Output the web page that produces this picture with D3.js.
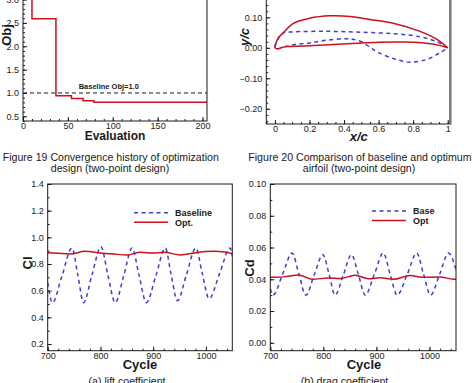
<!DOCTYPE html>
<html>
<head>
<meta charset="utf-8">
<script src="https://cdn.jsdelivr.net/npm/d3@7"></script>
<style>
body { margin: 0; background: #fff; }
svg { display: block; font-family: "Liberation Sans", Arial, sans-serif; }
</style>
</head>
<body>
<svg id="chart" width="474" height="383"></svg>
<script>
// Figure 19: objective history (step values)
const evalX = [0, 10, 36.7, 54, 67, 79, 205];
const evalObj = [3.6, 2.59, 0.94, 0.88, 0.835, 0.80, 0.80];
const baselineObj = 1.0;
const objTicks = [0.5, 1.0, 1.5, 2.0, 2.5, 3.0];
const evalTicks = [0, 50, 100, 150, 200];

// Figure 20: airfoil surfaces
const optUpperX = [0, 0.004, 0.012, 0.025, 0.05, 0.1, 0.2, 0.32, 0.435, 0.55, 0.69, 0.84, 0.94, 1.0];
const optUpperY = [0, 0.012, 0.024, 0.036, 0.05, 0.078, 0.097, 0.105, 0.103, 0.093, 0.08, 0.054, 0.027, 0];
const optLowerX = [0, 0.01, 0.02, 0.04, 0.07, 0.17, 0.42, 0.6, 0.75, 0.92, 1.0];
const optLowerY = [0, -0.003, -0.003, 0.001, 0.004, 0.006, 0.013, 0.018, 0.019, 0.012, 0];
const baseUpperX = [0, 0.004, 0.012, 0.025, 0.05, 0.1, 0.3, 0.5, 0.69, 0.84, 0.94, 1.0];
const baseUpperY = [0, 0.012, 0.024, 0.036, 0.049, 0.052, 0.054, 0.051, 0.046, 0.036, 0.019, 0];
const baseLowerX = [0, 0.01, 0.02, 0.04, 0.07, 0.117, 0.2, 0.3, 0.416, 0.45, 0.5, 0.55, 0.6, 0.69, 0.78, 0.88, 0.955, 1.0];
const baseLowerY = [0, -0.003, -0.003, 0.001, 0.005, 0.011, 0.016, 0.025, 0.03, 0.028, 0.02, 0.002, -0.016, -0.036, -0.047, -0.038, -0.016, 0];
const xcTicks = [0, 0.2, 0.4, 0.6, 0.8, 1];
const ycTicks = [-0.2, -0.1, 0, 0.1, 0.2];

// (a) lift coefficient
const clBaseCycle = [700, 709, 727, 746, 757, 768, 784, 801, 814, 828, 844, 860, 873, 887, 905, 923, 934, 946, 963, 981, 993, 1006, 1026, 1046, 1050];
const clBase = [0.66, 0.51, 0.71, 0.92, 0.72, 0.51, 0.72, 0.93, 0.72, 0.51, 0.71, 0.92, 0.72, 0.51, 0.71, 0.92, 0.72, 0.525, 0.72, 0.92, 0.73, 0.54, 0.73, 0.92, 0.86];
const clOptCycle = [700, 720, 742, 771, 800, 825, 850, 876, 900, 920, 952, 984, 1015, 1035, 1050];
const clOpt = [0.885, 0.88, 0.875, 0.895, 0.883, 0.875, 0.868, 0.888, 0.882, 0.888, 0.868, 0.887, 0.895, 0.89, 0.878];
const clTicks = [0.2, 0.4, 0.6, 0.8, 1.0, 1.2, 1.4];

// (b) drag coefficient
const cdBaseCycle = [700, 705, 723, 741, 754, 767, 783, 799, 811, 822, 838, 853, 866, 879, 896, 913, 926, 939, 958, 976, 989, 1002, 1019, 1036, 1050];
const cdBase = [0.034, 0.030, 0.043, 0.0565, 0.043, 0.030, 0.043, 0.0555, 0.043, 0.030, 0.043, 0.0555, 0.043, 0.030, 0.043, 0.0565, 0.043, 0.030, 0.043, 0.0565, 0.043, 0.030, 0.043, 0.0565, 0.046];
const cdOptCycle = [700, 725, 753, 780, 809, 832, 860, 885, 907, 932, 963, 989, 1020, 1045, 1050];
const cdOpt = [0.0412, 0.0415, 0.0427, 0.0400, 0.0408, 0.0405, 0.0425, 0.0403, 0.0410, 0.0400, 0.0423, 0.0412, 0.0414, 0.0400, 0.0400];
const cdTicks = [0, 0.02, 0.04, 0.06, 0.08, 0.10];
const cycleTicks = [700, 800, 900, 1000];

const svg = d3.select("#chart");
const red = "#cc101c", blue = "#3d3dd2", ink = "#1a1a1a";

function makePanel(p) {
    const x = d3.scaleLinear().domain(p.xDomain).range(p.xRange);
    const y = d3.scaleLinear().domain(p.yDomain).range(p.yRange);
    const [x0, x1] = p.xRange, [yb, yt] = p.yRange;
    const g = svg.append("g");

    g.append("clipPath").attr("id", p.id).append("rect")
        .attr("x", x0).attr("y", yt).attr("width", x1 - x0).attr("height", yb - yt);

    // minor ticks (inward)
    g.append("g").attr("transform", `translate(0,${yb})`)
        .call(d3.axisBottom(x).tickValues(d3.range(p.xDomain[0], p.xDomain[1] + 1e-9, p.xMinor)).tickSize(-2).tickFormat(""));
    g.append("g").attr("transform", `translate(${x0},0)`)
        .call(d3.axisLeft(y).tickValues(d3.range(p.yMinorStart, p.yDomain[1] + 1e-9, p.yMinor)).tickSize(-2).tickFormat(""));

    // major ticks
    g.append("g").attr("transform", `translate(0,${yb})`)
        .call(d3.axisBottom(x).tickValues(p.xTicks).tickSize(-4).tickPadding(1.5).tickFormat(p.xFormat));
    g.append("g").attr("transform", `translate(${x0},0)`)
        .call(d3.axisLeft(y).tickValues(p.yTicks).tickSize(-4).tickPadding(4).tickFormat(p.yFormat));

    g.selectAll(".domain").remove();
    g.selectAll(".tick line").attr("stroke", ink);
    g.selectAll(".tick text").attr("font-size", 9).attr("fill", ink).attr("font-family", "Liberation Sans, Arial, sans-serif");

    const plot = g.append("g").attr("clip-path", `url(#${p.id})`);

    g.append("rect")
        .attr("x", x0).attr("y", yt).attr("width", x1 - x0).attr("height", yb - yt)
        .attr("fill", "none").attr("stroke", ink).attr("stroke-width", 1);

    return { x, y, g, plot };
}

function axisTitle(text, x, y, opts) {
    const t = svg.append("text")
        .attr("x", x).attr("y", y)
        .attr("text-anchor", "middle")
        .attr("font-weight", "bold")
        .attr("font-size", opts.size || 13)
        .attr("fill", ink)
        .text(text);
    if (opts.italic) t.attr("font-style", "italic");
    if (opts.rotate) t.attr("transform", `rotate(-90,${x},${y})`);
    return t;
}

function series(panel, xs, ys, color, dashed, curve) {
    const pts = xs.map((v, i) => [v, ys[i]]);
    const line = d3.line()
        .x(d => panel.x(d[0]))
        .y(d => panel.y(d[1]))
        .curve(curve || d3.curveMonotoneX);
    panel.plot.append("path")
        .datum(pts)
        .attr("fill", "none")
        .attr("stroke", color)
        .attr("stroke-width", 1.5)
        .attr("stroke-dasharray", dashed ? "4,3.5" : null)
        .attr("d", line);
}

function legend(x0, y0, labels) {
    labels.forEach((lab, i) => {
        const yy = y0 + i * 9.6;
        svg.append("line")
            .attr("x1", x0).attr("x2", x0 + 34).attr("y1", yy).attr("y2", yy)
            .attr("stroke", i === 0 ? blue : red)
            .attr("stroke-width", 1.5)
            .attr("stroke-dasharray", i === 0 ? "4,3.5" : null);
        svg.append("text")
            .attr("x", x0 + 41).attr("y", yy + 3.2)
            .attr("font-size", 9).attr("font-weight", "bold").attr("fill", ink)
            .text(lab);
    });
}

// --- Figure 19 ---
const pA = makePanel({
    id: "clipA", xDomain: [0, 205], xRange: [23, 207], yDomain: [0.4, 3.2], yRange: [121, -9.8],
    xTicks: evalTicks, xMinor: 10, xFormat: d3.format("d"),
    yTicks: objTicks, yMinor: 0.1, yMinorStart: 0.4, yFormat: d3.format(".1f")
});
pA.plot.append("line")
    .attr("x1", pA.x(0)).attr("x2", pA.x(205))
    .attr("y1", pA.y(baselineObj)).attr("y2", pA.y(baselineObj))
    .attr("stroke", ink).attr("stroke-width", 1).attr("stroke-dasharray", "4,3");
series(pA, evalX, evalObj, red, false, d3.curveStepAfter);
svg.append("text").attr("x", pA.x(62)).attr("y", pA.y(baselineObj) - 4)
    .attr("font-size", 7.5).attr("font-weight", "bold").attr("fill", ink)
    .text("Baseline Obj=1.0");
axisTitle("Evaluation", 115, 140, { size: 12 });
axisTitle("Obj", 11, 35, { size: 13, rotate: true });

// --- Figure 20 ---
const pB = makePanel({
    id: "clipB", xDomain: [-0.05, 1.015], xRange: [266.3, 450.3], yDomain: [-0.25, 0.25], yRange: [124, -28.4],
    xTicks: xcTicks, xMinor: 0.05, xFormat: d => d === 0 || d === 1 ? d3.format("d")(d) : d3.format(".1f")(d),
    yTicks: ycTicks, yMinor: 0.02, yMinorStart: -0.24, yFormat: d3.format(".2f")
});
pB.g.append("line")
    .attr("x1", 450.3).attr("x2", 450.3).attr("y1", -28.4).attr("y2", 124.5)
    .attr("stroke", "#7a7a7a").attr("stroke-width", 2.5);
const baseX = baseUpperX.slice().reverse().concat(baseLowerX.slice(1));
const baseY = baseUpperY.slice().reverse().concat(baseLowerY.slice(1));
const optX = optUpperX.slice().reverse().concat(optLowerX.slice(1));
const optY = optUpperY.slice().reverse().concat(optLowerY.slice(1));
series(pB, baseX, baseY, blue, true, d3.curveCatmullRom.alpha(0.5));
series(pB, optX, optY, red, false, d3.curveCatmullRom.alpha(0.5));
axisTitle("x/c", 358.7, 141, { size: 13, italic: true });
axisTitle("y/c", 249, 37, { size: 13, italic: true, rotate: true });

// captions
function caption(text, x, y, anchor) {
    svg.append("text").attr("x", x).attr("y", y)
        .attr("text-anchor", anchor || "middle")
        .attr("font-size", 10.6).attr("fill", ink)
        .text(text);
}
caption("Figure 19 Convergence history of optimization", 2.7, 160.5, "start");
caption("design (two-point design)", 110, 172);
caption("Figure 20 Comparison of baseline and optimum", 248.3, 160.5, "start");
caption("airfoil (two-point design)", 359, 172);

// --- (a) Cl ---
const pC = makePanel({
    id: "clipC", xDomain: [700, 1050], xRange: [47.7, 232.3], yDomain: [0.15, 1.4], yRange: [350.7, 184],
    xTicks: cycleTicks, xMinor: 20, xFormat: d3.format("d"),
    yTicks: clTicks, yMinor: 0.1, yMinorStart: 0.2, yFormat: d3.format(".1f")
});
series(pC, clBaseCycle, clBase, blue, true);
series(pC, clOptCycle, clOpt, red, false);
legend(134, 212.7, ["Baseline", "Opt."]);
axisTitle("Cycle", 140, 368.5, { size: 13 });
axisTitle("Cl", 32, 263, { size: 13, rotate: true });
caption("(a) lift coefficient", 127, 385);

// --- (b) Cd ---
const pD = makePanel({
    id: "clipD", xDomain: [700, 1050], xRange: [270.3, 456], yDomain: [-0.005, 0.1], yRange: [350.7, 184],
    xTicks: cycleTicks, xMinor: 20, xFormat: d3.format("d"),
    yTicks: cdTicks, yMinor: 0.01, yMinorStart: 0, yFormat: d3.format(".2f")
});
series(pD, cdBaseCycle, cdBase, blue, true);
series(pD, cdOptCycle, cdOpt, red, false);
legend(372, 211, ["Base", "Opt"]);
axisTitle("Cycle", 364, 368.5, { size: 13 });
axisTitle("Cd", 254, 268, { size: 13, rotate: true });
caption("(b) drag coefficient", 344.5, 385);
</script>
</body>
</html>
